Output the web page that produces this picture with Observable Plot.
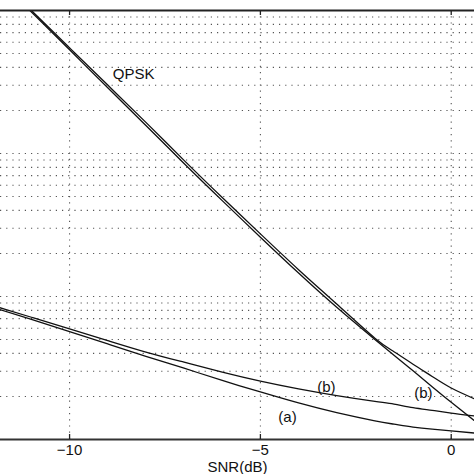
<!DOCTYPE html>
<html>
<head>
<meta charset="utf-8">
<script src="https://cdn.jsdelivr.net/npm/d3@7"></script>
<script src="https://cdn.jsdelivr.net/npm/@observablehq/plot@0.6"></script>
<style>
  html, body { margin: 0; padding: 0; background: #fff; }
</style>
</head>
<body>
<div id="chart"></div>
<script>
// SNR values (dB)
const snr = [-12, -11, -10, -9, -8, -7, -6, -5, -4, -3, -2, -1.5, -1, -0.5, 0, 0.6];
// QPSK pair of curves (upper)
const qpskA = [1799, 977, 531, 288, 157, 85.1, 46.8, 26.0, 14.6, 8.41, 5.01, 3.89, 3.02, 2.34, 1.82, 1.36];
const qpskB = [1841, 1000, 548, 301, 165, 89.5, 49.2, 27.4, 15.4, 8.85, 5.11, 4.11, 3.36, 2.76, 2.29, 1.93];
// lower curves
const curveB = [8.63, 7.16, 5.94, 4.92, 4.09, 3.47, 2.96, 2.56, 2.26, 2.03, 1.85, 1.77, 1.67, 1.60, 1.53, 1.46];
const curveA = [8.38, 6.92, 5.69, 4.66, 3.82, 3.15, 2.59, 2.15, 1.80, 1.54, 1.35, 1.28, 1.22, 1.18, 1.15, 1.11];

const xTicks = [-10, -5, 0];
const yGrid = [];
for (const p of [1, 10, 100]) for (let m = 1; m <= 9; m++) if (!(p === 1 && m === 1)) yGrid.push(m * p);

const labels = [
  {x: -8.32, y: 356, text: "QPSK"},
  {x: -3.27, y: 2.31, text: "(b)"},
  {x: -4.29, y: 1.43, text: "(a)"},
  {x: -0.73, y: 2.10, text: "(b)"}
];

const series = [
  {name: "qpskA", values: qpskA},
  {name: "qpskB", values: qpskB},
  {name: "b", values: curveB},
  {name: "a", values: curveA}
];
const rows = series.flatMap(s => snr.map((x, i) => ({x, y: s.values[i], name: s.name})));

const dots = {stroke: "#555", strokeWidth: 1.1, strokeDasharray: "1.2,5"};

const chart = Plot.plot({
  width: 474,
  height: 474,
  marginTop: 10,
  marginBottom: 35,
  marginLeft: 0,
  marginRight: 0,
  style: {fontFamily: "'Liberation Sans', Arial, sans-serif", background: "#fff", color: "#111"},
  x: {domain: [-11.81, 0.61]},
  y: {type: "log", domain: [1, 1000], axis: null},
  marks: [
    Plot.ruleY(yGrid, {y: d => d, ...dots}),
    Plot.ruleX(xTicks, {x: d => d, ...dots}),
    Plot.line(rows, {x: "x", y: "y", z: "name", stroke: "#111", strokeWidth: 1.3, curve: "natural", clip: true}),
    Plot.ruleY([1], {stroke: "#333", strokeWidth: 2}),
    Plot.ruleY([1000], {stroke: "#222", strokeWidth: 2}),
    Plot.ruleX(xTicks, {x: d => d, y1: 1000, y2: 1, insetTop: 424, stroke: "#222", strokeWidth: 1.3}),
    Plot.ruleX(xTicks, {x: d => d, y1: 1000, y2: 1, insetBottom: 424, stroke: "#222", strokeWidth: 1.3}),
    Plot.text(labels, {x: "x", y: "y", text: "text", fontSize: 15, fill: "#111"}),
    Plot.axisX({ticks: xTicks, tickSize: 0, tickPadding: 5, label: null, fontSize: 15}),
    Plot.text(["SNR(dB)"], {frameAnchor: "bottom", dy: 28, lineAnchor: "middle", fontSize: 15, fill: "#111"})
  ]
});
document.getElementById("chart").append(chart);
</script>
</body>
</html>
